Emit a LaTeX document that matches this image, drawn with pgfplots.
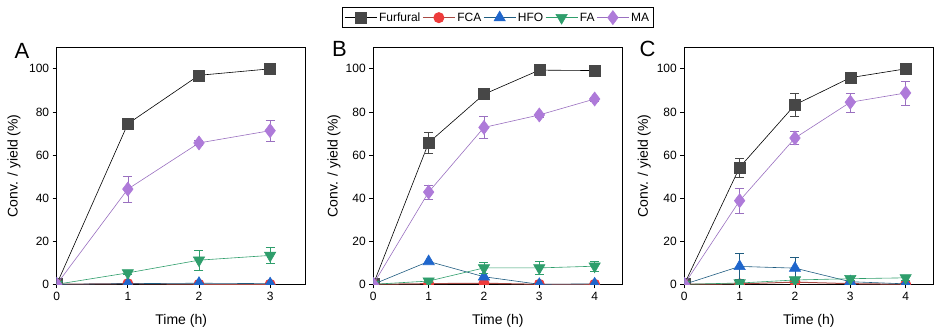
\documentclass[border=0pt]{standalone}
\usepackage{pgfplots}
\pgfplotsset{compat=1.18}
\usepackage{fontspec}
\setmainfont{Liberation Sans}
\definecolor{cfur}{HTML}{474747}
\definecolor{cfca}{HTML}{EE3B3B}
\definecolor{clfca}{HTML}{A84A44}
\definecolor{chfo}{HTML}{1F66CC}
\definecolor{clhfo}{HTML}{1F5C80}
\definecolor{cfa}{HTML}{2F9E6C}
\definecolor{cma}{HTML}{AE7AD9}
\definecolor{clma}{HTML}{9A70C0}
\pgfplotsset{
  furf/.style={draw=black, mark=square*, mark size=5.5pt, mark options={fill=cfur, draw=cfur, solid},
    error bars/error bar style={cfur, line width=0.6pt}, error bars/error mark options={rotate=90, mark size=4.5pt, cfur}},
  fca/.style={draw=clfca, line width=1pt, mark=*, mark size=5pt, mark options={fill=cfca, draw=cfca, solid}},
  hfo/.style={draw=clhfo, mark=triangle*, mark size=6.5pt, mark options={fill=chfo, draw=chfo, solid},
    error bars/error bar style={clhfo, line width=0.6pt}, error bars/error mark options={rotate=90, mark size=4.5pt, clhfo}},
  fa/.style={draw=cfa, mark=triangle*, mark size=6.5pt, mark options={fill=cfa, draw=cfa, rotate=180, solid},
    error bars/error bar style={cfa, line width=0.6pt}, error bars/error mark options={rotate=90, mark size=4.5pt, cfa}},
  ma/.style={draw=clma, mark=diamond*, mark size=7pt, mark options={fill=cma, draw=cma, solid},
    error bars/error bar style={clma, line width=0.6pt}, error bars/error mark options={rotate=90, mark size=4.5pt, clma}},
  panel/.style={
    scale only axis, width=249pt, height=237pt,
    ymin=0, ymax=110, xmin=0,
    ytick={0,20,40,60,80,100}, xtick={0,1,2,3,4},
    tick align=outside, tick pos=left, major tick length=4pt,
    axis line style={line width=0.7pt}, every tick/.style={black, line width=0.7pt},
    tick label style={font=\fontsize{12}{12}\selectfont},
    /pgf/number format/assume math mode=true,
    xlabel={Time (h)}, ylabel={Conv. / yield (\%)},
    xlabel style={at={(axis description cs:0.5,-0.154)}, anchor=center, font=\fontsize{14}{14}\selectfont},
    clip marker paths=true,
    every axis plot/.append style={line width=0.6pt},
  },
}
\begin{document}
\begin{tikzpicture}
\path[use as bounding box] (0,0) rectangle (945pt,336pt);
% Panel A
\begin{axis}[panel, at={(56.7pt,51.7pt)}, anchor=south west, xmax=3.5,
  ylabel style={at={(axis description cs:-0.171,0.5)}, rotate=0, anchor=center, font=\fontsize{14}{14}\selectfont},
  extra description/.code={\node[font=\fontsize{22}{22}\selectfont] at (axis description cs:-0.140,0.985) {A};}]
\addplot[furf, error bars/.cd, y dir=both, y explicit] table[x=x,y=y,y error=e] {
x y e
0 0 0
1 74.5 0.8
2 97 0.8
3 100 0.5
};
\addplot[fca] table[x=x,y=y] {
x y
0 0
1 0.3
2 0
3 0
};
\addplot[hfo] table[x=x,y=y] {
x y
0 0
1 0.3
2 0.5
3 0.3
};
\addplot[fa, error bars/.cd, y dir=both, y explicit] table[x=x,y=y,y error=e] {
x y e
0 0 0
1 5.3 0.8
2 11.2 4.5
3 13.4 3.7
};
\addplot[ma, error bars/.cd, y dir=both, y explicit] table[x=x,y=y,y error=e] {
x y e
0 0 0
1 44.2 6
2 65.6 1.2
3 71.3 4.7
};
\end{axis}
% Panel B
\begin{axis}[panel, at={(373.3pt,51.7pt)}, anchor=south west, xmax=4.5,
  ylabel style={at={(axis description cs:-0.158,0.5)}, anchor=center, font=\fontsize{14}{14}\selectfont},
  extra description/.code={\node[font=\fontsize{22}{22}\selectfont] at (axis description cs:-0.136,0.993) {B};},
  legend columns=-1,
  legend style={at={(0.5,1.081)}, anchor=south, draw=black, line width=0.7pt,
    font=\fontsize{12}{12}\selectfont, inner xsep=2pt, inner ysep=3pt,
    /tikz/every even column/.append style={column sep=0pt}},
  legend image code/.code={\draw[mark repeat=2, mark phase=2, #1] plot coordinates {(0pt,0pt) (16pt,0pt) (32pt,0pt)};}]
\addplot[furf, error bars/.cd, y dir=both, y explicit] table[x=x,y=y,y error=e] {
x y e
0 0 0
1 65.7 5
2 88.2 0.8
3 99.4 0.5
4 99.2 0.5
};
\addlegendentry{Furfural}
\addplot[fca] table[x=x,y=y] {
x y
0 0
1 0.3
2 0.5
3 0
4 0
};
\addlegendentry{FCA}
\addplot[hfo] table[x=x,y=y] {
x y
0 0
1 10.6
2 3.5
3 0
4 0.2
};
\addlegendentry{HFO}
\addplot[fa, error bars/.cd, y dir=both, y explicit] table[x=x,y=y,y error=e] {
x y e
0 0 0
1 1.5 0.5
2 7.6 2.5
3 7.6 3.1
4 8.4 2.2
};
\addlegendentry{FA}
\addplot[ma, error bars/.cd, y dir=both, y explicit] table[x=x,y=y,y error=e] {
x y e
0 0 0
1 42.8 3.1
2 72.8 5.2
3 78.6 1
4 86 1
};
\addlegendentry{MA}
\end{axis}
% Panel C
\begin{axis}[panel, at={(684.3pt,51.7pt)}, anchor=south west, xmax=4.5,
  ylabel style={at={(axis description cs:-0.161,0.5)}, anchor=center, font=\fontsize{14}{14}\selectfont},
  extra description/.code={\node[font=\fontsize{22}{22}\selectfont] at (axis description cs:-0.148,0.993) {C};}]
\addplot[furf, error bars/.cd, y dir=both, y explicit] table[x=x,y=y,y error=e] {
x y e
0 0 0
1 54.3 4.4
2 83.3 5.5
3 95.9 1
4 100 0.5
};
\addplot[fca] table[x=x,y=y] {
x y
0 0
1 0.2
2 1
3 0.3
4 0
};
\addplot[hfo, error bars/.cd, y dir=both, y explicit] table[x=x,y=y,y error=e] {
x y e
0 0 0
1 8.3 6
2 7.5 5
3 1.2 0.5
4 0.2 0.2
};
\addplot[fa, error bars/.cd, y dir=both, y explicit] table[x=x,y=y,y error=e] {
x y e
0 0 0
1 0.6 0.5
2 2 1
3 2.6 0.8
4 3 1
};
\addplot[ma, error bars/.cd, y dir=both, y explicit] table[x=x,y=y,y error=e] {
x y e
0 0 0
1 38.8 5.6
2 67.9 3.1
3 84.5 4.4
4 88.8 5.5
};
\end{axis}
\end{tikzpicture}
\end{document}
